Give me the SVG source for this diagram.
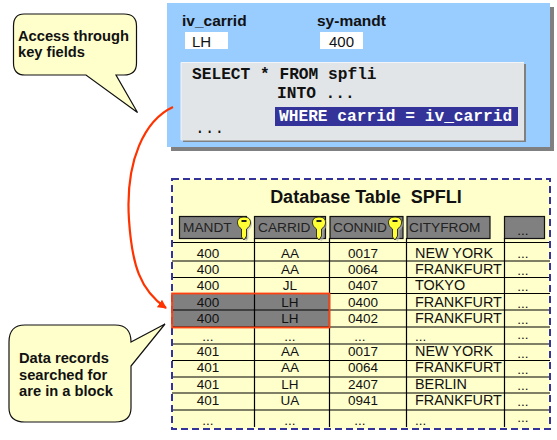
<svg xmlns="http://www.w3.org/2000/svg" width="557" height="440" viewBox="0 0 557 440">
<style>
text{font-family:"Liberation Sans",Arial,sans-serif;fill:#111}
.b{font-weight:bold;font-size:14.700px}
.n{font-weight:bold;font-size:15.500px}
.v{font-size:15px}
.m{font-family:"Liberation Mono","Courier New",monospace;font-weight:bold;font-size:16.200px}
.c{font-size:13.500px;text-anchor:middle}
.d{font-size:13.500px}
.l{font-size:14.400px}
.h{font-size:13.700px;fill:#222}
.g{fill:#808080;stroke:#111;stroke-width:1.2}
.r{stroke:#000;stroke-width:1.2;fill:none}
.call{fill:#ffffcc;stroke:#111;stroke-width:1.2}
</style>
<defs>
<g id="key">
<path d="M-3 6C-7 3-7-1-6-3C-5-7 5-7 6-3C7-1 7 3 3 6V14L1 17L-1 15V6Z" transform="translate(1.500 1.500)" fill="#bbb" opacity="0.6"/>
<path d="M-2.500 6C-7 3-7-1-6-3C-5-7 5-7 6-3C7-1 7 3 2.500 6V13L0 17L-2.500 14Z" fill="#ffff33" stroke="#222" stroke-width="0.900"/>
<rect x="-2.500" y="-3" width="5" height="2" fill="#222"/>
</g>
<marker id="a" markerWidth="9" markerHeight="9" refX="8" refY="4.500" orient="auto" markerUnits="userSpaceOnUse"><path d="M0 0L9 4.500L0 9Z" fill="#ff3300"/></marker>
</defs>

<g id="code-panel">
<rect x="171" y="7" width="383" height="144" fill="#808080"/>
<rect x="167" y="3" width="383" height="144" fill="#99ccff"/>
<text x="182" y="26" class="n">iv_carrid</text>
<text x="317" y="26" class="n">sy-mandt</text>
<rect x="185" y="32" width="43" height="17" fill="#fff"/>
<text x="192" y="47" class="v">LH</text>
<rect x="320" y="32" width="43" height="17" fill="#fff"/>
<text x="329" y="47" class="v">400</text>
<rect x="183" y="64" width="343" height="78" fill="#808080"/>
<rect x="181" y="62.500" width="343" height="78" fill="#e1e5e8"/>
<path d="M181 140V62.500H524" fill="none" stroke="#f2f5f8" stroke-width="1"/>
<text x="192" y="79" class="m">SELECT * FROM spfli</text>
<text x="277" y="97.500" class="m">INTO ...</text>
<rect x="275" y="107" width="243" height="19" fill="#333399"/>
<text x="279" y="121" class="m" style="fill:#fff">WHERE carrid = iv_carrid</text>
<text x="195" y="133" class="m" style="font-weight:normal">...</text>
</g>

<g id="database-table">
<rect x="172" y="179" width="378" height="250" fill="#ffffcc"/>
<text x="366" y="203" text-anchor="middle" style="font-weight:bold;font-size:18px" xml:space="preserve">Database Table  SPFLI</text>
<rect x="179.500" y="216.500" width="67" height="22" class="g"/>
<rect x="254.500" y="216.500" width="71" height="22" class="g"/>
<rect x="330" y="216.500" width="73" height="22" class="g"/>
<rect x="407" y="216.500" width="83" height="22" class="g"/>
<rect x="504.500" y="216.500" width="40" height="22" class="g"/>
<text x="183" y="232" class="h">MANDT</text>
<text x="258" y="232" class="h">CARRID</text>
<text x="333" y="232" class="h">CONNID</text>
<text x="409" y="232" class="h">CITYFROM</text>
<text x="523" y="235" class="c">...</text>
<use href="#key" x="244" y="223"/>
<use href="#key" x="319" y="223"/>
<use href="#key" x="395" y="223"/>
<rect x="172" y="293.500" width="157.500" height="34" fill="#808080"/>
<path class="r" d="M172 242.500H550M172 261H550M172 277.500H550M172 293.500H550M172 310H550M172 327H550M172 344H550M172 360.500H550M172 377H550M172 393H550M172 410H550M254.500 238V427M329.500 238V427M406.500 238V427M504.500 238V427"/>
<text x="208" y="258" class="c">400</text><text x="290" y="258" class="c">AA</text><text x="348" y="258" class="d">0017</text><text x="415" y="258" class="l">NEW YORK</text><text x="523" y="258" class="c">...</text>
<text x="208" y="274" class="c">400</text><text x="290" y="274" class="c">AA</text><text x="348" y="274" class="d">0064</text><text x="415" y="274" class="l">FRANKFURT</text><text x="523" y="275" class="c">...</text>
<text x="208" y="290" class="c">400</text><text x="290" y="290" class="c">JL</text><text x="348" y="290" class="d">0407</text><text x="415" y="290" class="l">TOKYO</text><text x="523" y="291" class="c">...</text>
<text x="208" y="307" class="c">400</text><text x="290" y="307" class="c">LH</text><text x="348" y="307" class="d">0400</text><text x="415" y="307" class="l">FRANKFURT</text><text x="523" y="308" class="c">...</text>
<text x="208" y="323" class="c">400</text><text x="290" y="323" class="c">LH</text><text x="348" y="323" class="d">0402</text><text x="415" y="323" class="l">FRANKFURT</text><text x="523" y="324" class="c">...</text>
<text x="208" y="341" class="c">...</text><text x="290" y="341" class="c">...</text><text x="360" y="341" class="c">...</text><text x="415" y="341" class="d">...</text><text x="523" y="339" class="c">...</text>
<text x="208" y="356" class="c">401</text><text x="290" y="356" class="c">AA</text><text x="348" y="356" class="d">0017</text><text x="415" y="356" class="l">NEW YORK</text><text x="523" y="358" class="c">...</text>
<text x="208" y="372" class="c">401</text><text x="290" y="372" class="c">AA</text><text x="348" y="372" class="d">0064</text><text x="415" y="372" class="l">FRANKFURT</text><text x="523" y="374" class="c">...</text>
<text x="208" y="389" class="c">401</text><text x="290" y="389" class="c">LH</text><text x="348" y="389" class="d">2407</text><text x="415" y="389" class="l">BERLIN</text><text x="523" y="390" class="c">...</text>
<text x="208" y="405" class="c">401</text><text x="290" y="405" class="c">UA</text><text x="348" y="405" class="d">0941</text><text x="415" y="405" class="l">FRANKFURT</text><text x="523" y="406" class="c">...</text>
<text x="208" y="425" class="c">...</text><text x="290" y="425" class="c">...</text><text x="360" y="425" class="c">...</text><text x="415" y="425" class="d">...</text><text x="523" y="422" class="c">...</text>
<rect x="172" y="179" width="378" height="250" fill="none" stroke="#333399" stroke-width="2" stroke-dasharray="7 4"/>
<rect x="172" y="293.500" width="157.500" height="34" fill="none" stroke="#ff4010" stroke-width="1.800"/>
</g>

<g id="connectors">
<path d="M173 107C145 120 125 160 129 220C132 265 140 290 166 308" fill="none" stroke="#ff3300" stroke-width="2.200" marker-end="url(#a)"/>
</g>

<g id="callout-access">
<path class="call" d="M24 14H124Q136.500 14 136.500 26V63Q136.500 75 124 75H116L137.500 112.500L86 75H25Q13.500 75 13.500 63V26Q13.500 14 24 14Z"/>
<text x="18" y="41" class="b">Access through</text>
<text x="18" y="57" class="b">key fields</text>
</g>

<g id="callout-records">
<path class="call" d="M25 325H115Q131 325 131 342L165 324L131 366V408Q131 422 115 422H25Q9 422 9 408V342Q9 325 25 325Z"/>
<text x="19" y="363" class="b">Data records</text>
<text x="19" y="379.500" class="b">searched for</text>
<text x="19" y="396" class="b">are in a block</text>
</g>
</svg>
